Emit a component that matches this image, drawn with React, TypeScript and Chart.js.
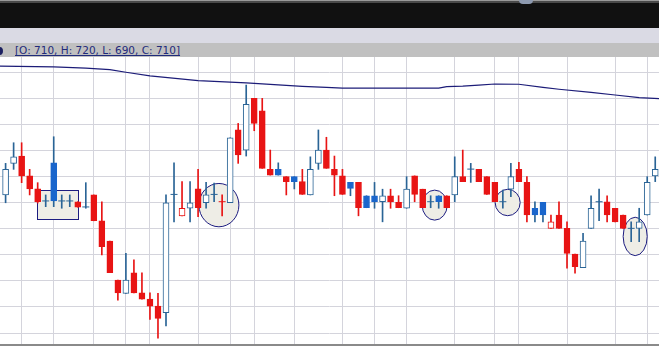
import React, { useEffect, useRef } from "react";
import { Chart, registerables } from "chart.js";

Chart.register(...registerables);

// ---- data (price units) ----
const OPEN = [
  752.9, 765.0, 767.8, 760.2, 755.2, 750.6, 765.2, 750.6, 750.6, 750.3,
  748.3, 752.9, 743.0, 735.2, 720.3, 715.2, 723.1, 715.4, 713.0, 710.3,
  707.8, 753.1, 744.9, 747.8, 755.2, 749.9, 753.1, 750.3, 749.9, 777.8,
  770.1, 789.9, 785.1, 762.7, 762.7, 759.9, 759.9, 758.0, 752.9, 765.0,
  770.1, 762.7, 760.2, 757.7, 757.7, 752.6, 752.6, 750.3, 752.6, 750.1,
  747.8, 760.2, 755.1, 750.3, 752.6, 752.6, 752.9, 759.9, 762.8, 762.7,
  759.9, 757.7, 750.3, 755.1, 762.7, 757.7, 747.8, 750.1, 740.1, 745.2,
  740.1, 730.2, 725.0, 740.1, 750.3, 750.3, 747.8, 745.2, 740.1, 740.1,
  745.2, 760.2,
];
const HIGH = [
  765.0, 772.9, 772.9, 762.7, 757.6, 752.9, 775.2, 752.9, 752.9, 750.3,
  757.6, 752.9, 750.3, 735.2, 720.3, 730.5, 728.0, 723.1, 715.4, 715.2,
  752.9, 765.2, 758.0, 758.0, 762.7, 757.7, 757.4, 752.9, 774.8, 780.3,
  795.0, 789.9, 789.9, 770.1, 765.2, 759.9, 759.9, 762.7, 767.5, 777.8,
  775.0, 767.8, 762.7, 757.7, 757.7, 752.6, 757.7, 755.1, 755.1, 752.6,
  759.9, 760.2, 755.1, 752.6, 752.6, 752.6, 767.5, 770.1, 765.0, 762.7,
  759.9, 757.7, 754.8, 765.0, 765.4, 759.9, 750.3, 750.1, 745.2, 750.3,
  742.6, 730.2, 738.2, 752.6, 755.1, 752.6, 747.8, 745.2, 742.6, 747.8,
  759.9, 767.5,
];
const LOW = [
  749.9, 762.7, 757.6, 752.9, 749.8, 748.4, 748.4, 747.8, 748.4, 748.2,
  747.8, 743.0, 729.9, 723.1, 712.6, 715.2, 715.4, 713.0, 705.2, 698.0,
  702.7, 742.6, 744.9, 742.6, 744.6, 747.8, 750.3, 744.9, 749.9, 765.0,
  767.8, 777.5, 763.1, 760.5, 760.5, 752.9, 755.2, 753.1, 752.9, 762.7,
  763.1, 752.6, 753.1, 752.6, 744.9, 748.0, 747.8, 742.6, 747.8, 748.0,
  747.8, 750.3, 748.0, 748.0, 747.8, 748.0, 750.3, 758.0, 757.7, 758.0,
  753.1, 750.3, 747.8, 752.2, 758.0, 742.6, 742.6, 742.6, 740.1, 740.1,
  724.8, 722.9, 725.0, 740.1, 743.0, 742.6, 742.6, 740.1, 735.0, 735.0,
  745.2, 758.0,
];
const CLOSE = [
  762.7, 767.5, 760.2, 755.2, 750.3, 750.6, 750.6, 750.6, 750.6, 748.2,
  748.3, 743.0, 733.1, 723.1, 715.4, 720.3, 715.4, 713.0, 710.3, 705.6,
  749.9, 753.1, 747.8, 749.9, 748.0, 752.9, 753.1, 750.3, 774.8, 768.2,
  787.6, 780.3, 763.1, 760.5, 760.5, 758.0, 758.0, 753.1, 762.7, 770.1,
  763.1, 760.5, 753.1, 755.4, 748.0, 748.0, 750.3, 752.6, 750.3, 748.0,
  755.1, 753.1, 748.0, 750.3, 750.3, 748.0, 759.9, 758.0, 762.8, 758.0,
  753.1, 750.3, 750.3, 759.9, 758.0, 745.2, 745.2, 745.2, 742.6, 740.1,
  730.5, 725.4, 735.2, 747.8, 750.3, 745.2, 742.6, 740.1, 740.1, 742.6,
  757.7, 762.7,
];

// moving average read at these candle positions
const MA_AT = [-1, 6, 10, 13, 15, 18, 24, 30, 37, 40, 42, 54, 55, 57, 59, 61, 64, 67, 69, 73, 76, 79, 82];
const MA_VAL = [802.3, 802.0, 801.5, 800.9, 799.9, 798.5, 796.7, 795.8, 794.5, 794.1, 793.8, 793.8, 794.4, 794.6, 795.0, 795.4, 795.3, 794.1, 793.4, 792.2, 791.2, 790.2, 789.7];

// candles where the time grid lines fall
const GRID_AT = [2, 6, 11, 15, 18, 24, 28, 31, 36, 42, 46, 50, 56, 61, 64, 70, 76, 80];
// price levels of the horizontal grid lines
const PRICE_LEVELS = [700, 710, 720, 730, 740, 750, 760, 770, 780, 790, 800];

const LABEL = "[O: 710, H: 720, L: 690, C: 710]";

// drawn marks, in candle / price units
const BOXES = [{ from: 3.95, to: 9.0, top: 754.8, bottom: 743.7 }];
const RINGS = [
  { at: 26.6, price: 749.0, halfW: 2.49, halfH: 8.3 },
  { at: 53.5, price: 749.0, halfW: 1.56, halfH: 5.75 },
  { at: 62.6, price: 750.0, halfW: 1.56, halfH: 5.06 },
  { at: 78.5, price: 737.0, halfW: 1.5, halfH: 7.36 },
];

// ---- styling ----
const RED = "#e81414";
const BLUE_FILL = "#1a66cc";
const BLUE_LINE = "#2a6496";
const GRID = "#d4d4dc";
const MA_COLOR = "#1c1c78";
const MARK_FILL = "#eeede6";
const MARK_LINE = "#1c1c80";

const X_MIN = -0.698;
const X_MAX = 81.47;
const Y_MIN = 695.79;
const Y_MAX = 805.75;

const marksPlugin = {
  id: "marks",
  beforeDatasetsDraw(chart: any) {
    const { ctx, chartArea, scales } = chart;
    const x = scales.x;
    const y = scales.y;
    ctx.save();
    ctx.beginPath();
    ctx.rect(chartArea.left, chartArea.top, chartArea.width, chartArea.height);
    ctx.clip();
    ctx.fillStyle = MARK_FILL;
    ctx.strokeStyle = MARK_LINE;
    ctx.lineWidth = 1;
    for (const b of BOXES) {
      const x0 = Math.round(x.getPixelForValue(b.from)) + 0.5;
      const x1 = Math.round(x.getPixelForValue(b.to)) + 0.5;
      const y0 = Math.round(y.getPixelForValue(b.top)) + 0.5;
      const y1 = Math.round(y.getPixelForValue(b.bottom)) + 0.5;
      ctx.fillRect(x0, y0, x1 - x0, y1 - y0);
      ctx.strokeRect(x0, y0, x1 - x0, y1 - y0);
    }
    for (const r of RINGS) {
      const cx = x.getPixelForValue(r.at);
      const cy = y.getPixelForValue(r.price);
      const rx = Math.abs(x.getPixelForValue(r.at + r.halfW) - cx);
      const ry = Math.abs(y.getPixelForValue(r.price + r.halfH) - cy);
      ctx.beginPath();
      ctx.ellipse(cx, cy, rx, ry, 0, 0, Math.PI * 2);
      ctx.fill();
      ctx.stroke();
    }
    ctx.restore();
  },
};

function buildConfig(): any {
  const wicks: any[] = [];
  const wickColors: string[] = [];
  const bodies: any[] = [];
  const bodyFill: string[] = [];
  const bodyLine: string[] = [];
  const crosses: any[] = [];
  const crossColors: string[] = [];

  for (let i = 0; i < OPEN.length; i++) {
    const o = OPEN[i];
    const c = CLOSE[i];
    const prev = i === 0 ? o : CLOSE[i - 1];
    const up = c >= prev;
    const filled = c < o;
    wicks.push({ x: i, y: [LOW[i], HIGH[i]] });
    wickColors.push(up ? BLUE_LINE : RED);
    if (o === c) {
      crosses.push({ x: i, y: c });
      crossColors.push(up ? BLUE_LINE : RED);
    } else {
      bodies.push({ x: i, y: [Math.min(o, c), Math.max(o, c)] });
      if (filled) {
        bodyFill.push(up ? BLUE_FILL : RED);
        bodyLine.push(up ? BLUE_FILL : RED);
      } else {
        bodyFill.push("#ffffff");
        bodyLine.push(up ? BLUE_LINE : RED);
      }
    }
  }

  const ma = MA_AT.map((k, i) => ({ x: k, y: MA_VAL[i] }));

  return {
    type: "bar",
    data: {
      datasets: [
        {
          type: "line",
          label: "cross",
          data: crosses,
          showLine: false,
          pointStyle: "line",
          pointRadius: 3.5,
          pointHoverRadius: 3.5,
          pointBorderWidth: 1,
          pointBorderColor: crossColors,
          pointBackgroundColor: crossColors,
          order: 1,
        },
        {
          type: "bar",
          label: "body",
          data: bodies,
          backgroundColor: bodyFill,
          borderColor: bodyLine,
          borderWidth: 1,
          borderSkipped: false,
          barThickness: 6,
          grouped: false,
          order: 2,
        },
        {
          type: "bar",
          label: "wick",
          data: wicks,
          backgroundColor: wickColors,
          borderWidth: 0,
          barThickness: 1,
          grouped: false,
          order: 3,
        },
        {
          type: "line",
          label: "MA",
          data: ma,
          borderColor: MA_COLOR,
          borderWidth: 1.2,
          pointRadius: 0,
          fill: false,
          tension: 0,
          order: 4,
        },
      ],
    },
    options: {
      responsive: false,
      animation: false,
      events: [],
      layout: { padding: 0, autoPadding: false },
      plugins: { legend: { display: false }, tooltip: { enabled: false } },
      scales: {
        x: {
          type: "linear",
          min: X_MIN,
          max: X_MAX,
          offset: false,
          afterBuildTicks: (axis: any) => {
            axis.ticks = GRID_AT.map((v) => ({ value: v }));
          },
          ticks: { display: false },
          grid: { color: GRID, drawTicks: false, offset: false, lineWidth: 1 },
          border: { display: false },
        },
        y: {
          type: "linear",
          min: Y_MIN,
          max: Y_MAX,
          afterBuildTicks: (axis: any) => {
            axis.ticks = PRICE_LEVELS.map((v) => ({ value: v }));
          },
          ticks: { display: false },
          grid: { color: GRID, drawTicks: false, lineWidth: 1 },
          border: { display: false },
        },
      },
    },
    plugins: [marksPlugin],
  };
}

export default function App() {
  const ref = useRef<HTMLCanvasElement>(null);
  useEffect(() => {
    document.body.style.margin = "0";
    const canvas = ref.current;
    if (!canvas) return;
    const chart = new Chart(canvas, buildConfig());
    return () => chart.destroy();
  }, []);

  const abs = (top: number, height: number, bg: string): React.CSSProperties => ({
    position: "absolute",
    left: 0,
    top,
    width: 659,
    height,
    background: bg,
  });

  return (
    <div style={{ position: "relative", width: 659, height: 346, overflow: "hidden", background: "#ffffff" }}>
      <div style={abs(0, 3, "#4a4a4a")} />
      <div style={abs(0, 1, "#9a9a9a")} />
      <div style={abs(3, 25, "#111111")} />
      <div
        style={{
          position: "absolute",
          left: 519,
          top: 0,
          width: 14,
          height: 4,
          borderRadius: "0 0 6px 6px",
          background: "#8e9ab0",
        }}
      />
      <div style={abs(28, 15, "#dadae4")} />
      <div style={abs(43, 14, "#c0c0c0")} />
      <div
        style={{
          position: "absolute",
          left: -4,
          top: 47,
          width: 7,
          height: 8,
          borderRadius: "50%",
          background: "#1c2060",
        }}
      />
      <div
        style={{
          position: "absolute",
          left: 15,
          top: 43,
          height: 14,
          lineHeight: "14px",
          fontFamily: '"DejaVu Sans", sans-serif',
          fontSize: "10.5px",
          color: "#1f2b7b",
          textDecoration: "underline",
          whiteSpace: "nowrap",
        }}
      >
        {LABEL}
      </div>
      <canvas
        ref={ref}
        width={659}
        height={287}
        style={{ position: "absolute", left: 0, top: 57, width: 659, height: 287, display: "block" }}
      />
      <div style={abs(344, 2, "#8a8a8a")} />
    </div>
  );
}
